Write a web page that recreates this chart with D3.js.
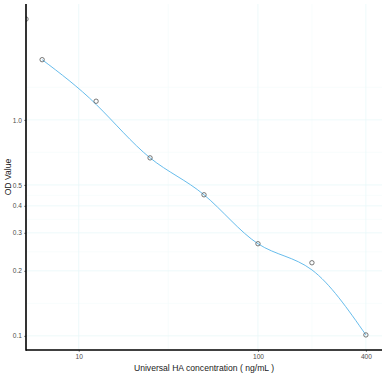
<!DOCTYPE html>
<html><head><meta charset="utf-8">
<script src="https://cdn.jsdelivr.net/npm/d3@7"></script>
<style>body{margin:0;background:#fff}svg{display:block}</style>
</head><body>
<svg id="c" width="386" height="375"></svg>
<script>
// Data
const concentration = [0, 6.25, 12.5, 25, 50, 100, 200, 400];      // ng/mL (0 = blank, drawn at the left edge)
const odValue       = [2.93, 1.90, 1.22, 0.667, 0.45, 0.267, 0.218, 0.101];
const fitConc       = [6.25, 12.5, 25, 50, 100, 200, 400];
const fitOD         = [1.90, 1.18, 0.667, 0.45, 0.267, 0.202, 0.101];
const xTicks = [10, 100, 400];
const yTicks = [0.1, 0.2, 0.3, 0.4, 0.5, 1.0];
const xMinor = [31.62, 200];
const yMinor = [0.1414, 0.2449, 0.3464, 0.4472, 0.7071, 1.4142];
const xDomain = [5.08, 492];
const yDomain = [0.086, 3.44];

const svg = d3.select("#c");
const L = 26, R = 382, T = 4, B = 350;
const x = d3.scaleLog().domain(xDomain).range([L, R]);
const y = d3.scaleLog().domain(yDomain).range([B, T]);
const xc = v => v <= 0 ? L : x(v);

svg.append("defs").append("clipPath").attr("id", "panel")
  .append("rect").attr("x", L).attr("y", T).attr("width", R - L).attr("height", B - T);

const grid = svg.append("g");
grid.selectAll(".gxm").data(xMinor).join("line")
  .attr("x1", d => x(d)).attr("x2", d => x(d)).attr("y1", T).attr("y2", B)
  .attr("stroke", "#f3fbfc").attr("stroke-width", 0.6);
grid.selectAll(".gym").data(yMinor).join("line")
  .attr("y1", d => y(d)).attr("y2", d => y(d)).attr("x1", L).attr("x2", R)
  .attr("stroke", "#f3fbfc").attr("stroke-width", 0.6);
grid.selectAll(".gx").data(xTicks).join("line")
  .attr("x1", d => x(d)).attr("x2", d => x(d)).attr("y1", T).attr("y2", B)
  .attr("stroke", "#e9f7f9").attr("stroke-width", 0.8);
grid.selectAll(".gy").data(yTicks).join("line")
  .attr("y1", d => y(d)).attr("y2", d => y(d)).attr("x1", L).attr("x2", R)
  .attr("stroke", "#e9f7f9").attr("stroke-width", 0.8);

const panel = svg.append("g").attr("clip-path", "url(#panel)");
// fitted curve
const pts = fitConc.map((c, i) => [x(c), y(fitOD[i])]);
panel.append("path").attr("d", d3.line().curve(d3.curveNatural)(pts))
  .attr("fill", "none").attr("stroke", "#56b4e9").attr("stroke-width", 0.9);

// points
panel.selectAll(".pt").data(concentration).join("circle")
  .attr("cx", d => xc(d)).attr("cy", (d, i) => y(odValue[i])).attr("r", 2.2)
  .attr("fill", "none").attr("stroke", "#555555").attr("stroke-width", 0.8);

// axes
const fmtY = d => d.toFixed(1);
const xAxis = svg.append("g").attr("transform", `translate(0,${B})`)
  .call(d3.axisBottom(x).tickValues(xTicks).tickFormat(d3.format("d")).tickSize(2).tickPadding(2));
const yAxis = svg.append("g").attr("transform", `translate(${L},0)`)
  .call(d3.axisLeft(y).tickValues(yTicks).tickFormat(fmtY).tickSize(2).tickPadding(2));
[xAxis, yAxis].forEach(g => {
  g.select(".domain").remove();
  g.selectAll(".tick line").attr("stroke", "#444").attr("stroke-width", 0.6);
  g.selectAll(".tick text").attr("fill", "#4d4d4d").style("font-family", "Liberation Sans, Arial, sans-serif").style("font-size", "6.6px");
});
svg.append("line").attr("x1", L).attr("x2", R).attr("y1", B).attr("y2", B).attr("stroke", "#000").attr("stroke-width", 1.6);
svg.append("line").attr("x1", L).attr("x2", L).attr("y1", T).attr("y2", B + 0.8).attr("stroke", "#000").attr("stroke-width", 1.6);

svg.append("text").attr("x", (L + R) / 2).attr("y", 371).attr("text-anchor", "middle")
  .style("font-family", "Liberation Sans, Arial, sans-serif").style("font-size", "8.6px").attr("fill", "#1a1a1a")
  .text("Universal HA concentration ( ng/mL )");
svg.append("text").attr("transform", `translate(11,${(T + B) / 2}) rotate(-90)`).attr("text-anchor", "middle")
  .style("font-family", "Liberation Sans, Arial, sans-serif").style("font-size", "8.6px").attr("fill", "#1a1a1a")
  .text("OD Value");
</script>
</body></html>
